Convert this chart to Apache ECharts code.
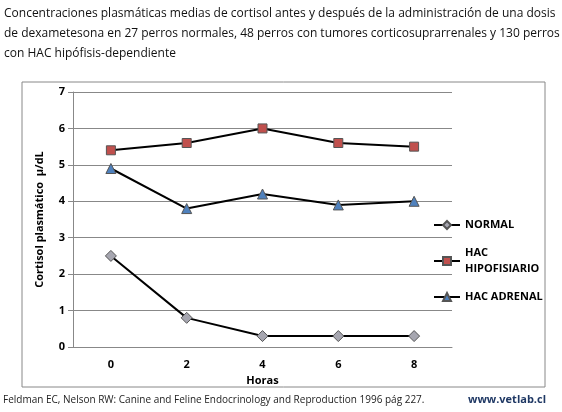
<!DOCTYPE html>
<html>
<head>
<meta charset="utf-8">
<script src="https://cdn.jsdelivr.net/npm/echarts@6/dist/echarts.min.js"></script>
<style>
  body { margin: 0; background: #fff; }
  #chart { width: 562px; height: 412px; }
</style>
</head>
<body>
<div id="chart"></div>
<script>
var horas = ['0', '2', '4', '6', '8'];
var normal = [2.5, 0.8, 0.3, 0.3, 0.3];
var hipofisiario = [5.4, 5.6, 6.0, 5.6, 5.5];
var adrenal = [4.9, 3.8, 4.2, 3.9, 4.0];

var chart = echarts.init(document.getElementById('chart'));
var font = '"Open Sans", "DejaVu Sans", sans-serif';

function serie (name, data, symbol, color, size) {
  return {
    name: name,
    type: 'line',
    data: data,
    symbol: symbol,
    symbolSize: size,
    lineStyle: { color: '#000', width: 2 },
    itemStyle: { color: color, borderColor: '#555', borderWidth: 1 },
    animation: false
  };
}

chart.setOption({
  backgroundColor: '#fff',
  textStyle: { fontFamily: font },
  graphic: [
    { type: 'rect', shape: { x: 22, y: 82, width: 523, height: 305 },
      style: { fill: 'none', stroke: '#888', lineWidth: 1 } },
    { type: 'text', left: 4, top: 4,
      style: { text: 'Concentraciones plasmáticas medias de cortisol antes y después de la administración de una dosis\nde dexametesona en 27 perros normales, 48 perros con tumores corticosuprarrenales y 130 perros\ncon HAC hipófisis-dependiente',
        font: '12px ' + font, fill: '#111', lineHeight: 20 } },
    { type: 'text', left: 3, top: 395,
      style: { text: 'Feldman EC, Nelson RW: Canine and Feline Endocrinology and Reproduction 1996 pág 227.',
        font: '10px ' + font, fill: '#222' } },
    { type: 'text', right: 16, top: 394,
      style: { text: 'www.vetlab.cl', font: 'bold 11px ' + font, fill: '#1f3864' } }
  ],
  grid: { left: 73, right: 110, top: 92, bottom: 65 },
  legend: {
    orient: 'vertical',
    left: 428,
    top: 212,
    itemGap: 12,
    itemWidth: 26,
    itemHeight: 10,
    textStyle: { fontSize: 11, fontWeight: 'bold', color: '#000', lineHeight: 16 },
    data: ['NORMAL', 'HAC\nHIPOFISIARIO', 'HAC ADRENAL']
  },
  xAxis: {
    type: 'category',
    data: horas,
    name: 'Horas',
    nameLocation: 'middle',
    nameGap: 28,
    nameTextStyle: { fontWeight: 'bold', fontSize: 11, color: '#000' },
    axisLine: { lineStyle: { color: '#888' } },
    axisTick: { lineStyle: { color: '#888' } },
    axisLabel: { fontWeight: 'bold', fontSize: 11, color: '#000', margin: 12 }
  },
  yAxis: {
    type: 'value',
    min: 0, max: 7, interval: 1,
    name: 'Cortisol plasmático  µ/dL',
    nameLocation: 'middle',
    nameGap: 28,
    nameTextStyle: { fontWeight: 'bold', fontSize: 11, color: '#000' },
    axisLine: { show: true, lineStyle: { color: '#888' } },
    axisTick: { show: true, lineStyle: { color: '#888' } },
    axisLabel: { fontWeight: 'bold', fontSize: 11, color: '#000' },
    splitLine: { lineStyle: { color: '#888' } }
  },
  series: [
    serie('NORMAL', normal, 'diamond', '#a6a6b0', 11),
    serie('HAC\nHIPOFISIARIO', hipofisiario, 'rect', '#c0504d', 9),
    serie('HAC ADRENAL', adrenal, 'triangle', '#4f81bd', 10)
  ]
});
</script>
</body>
</html>
